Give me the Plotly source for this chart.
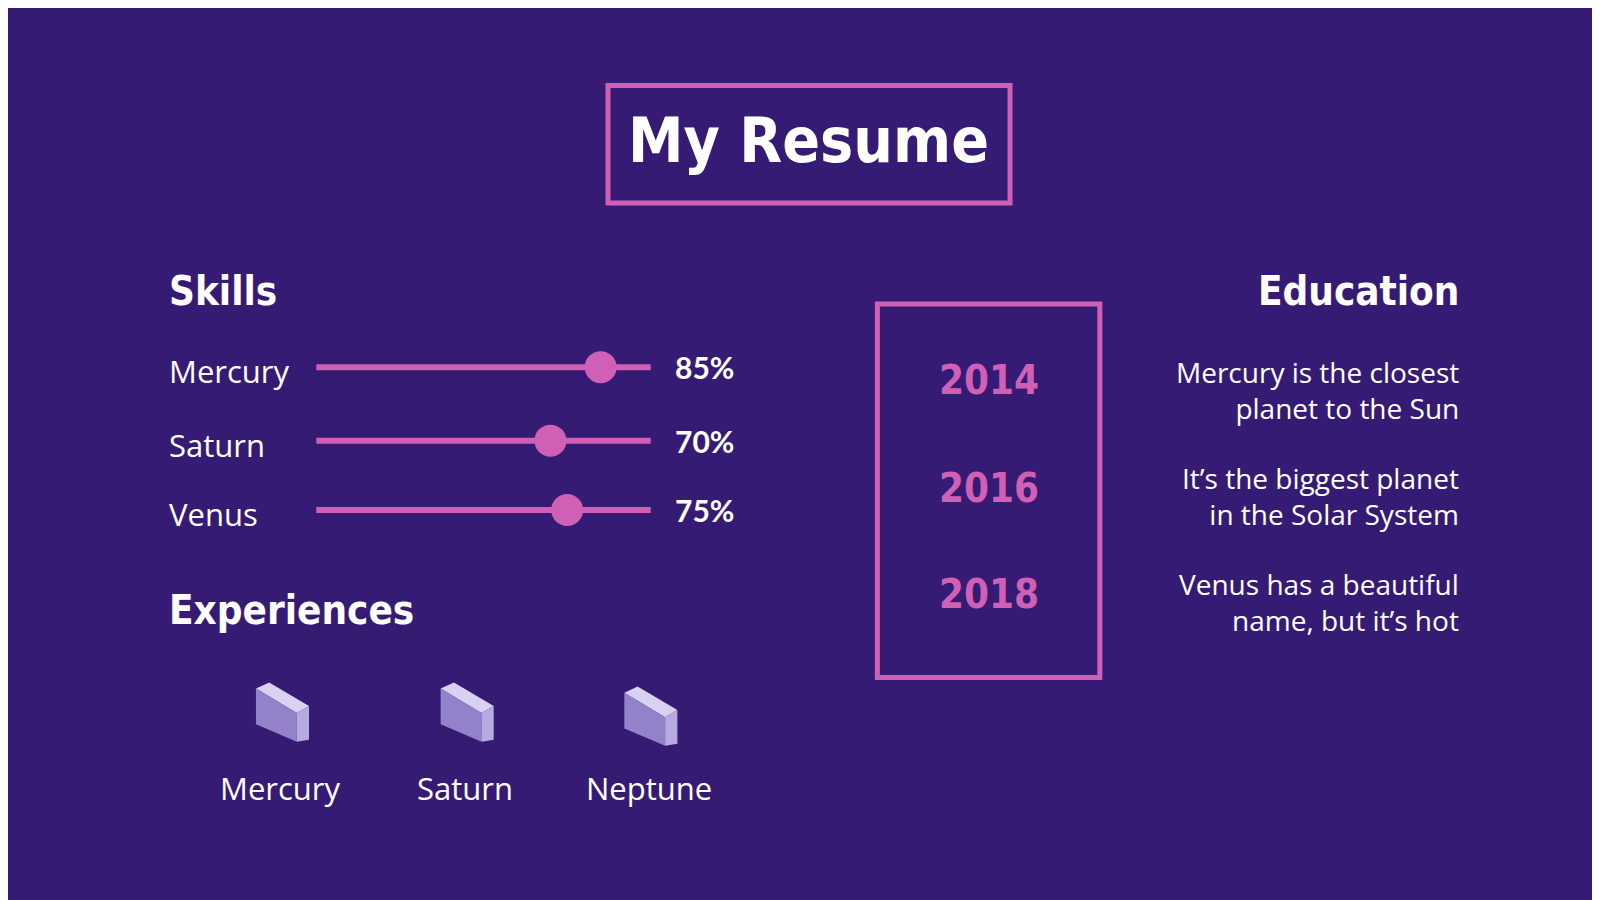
import plotly.graph_objects as go

BG = '#361b74'
PINK = '#cf60b6'
HEAD = 'DejaVu Sans Condensed, Liberation Sans Narrow, sans-serif'
BODY = 'Open Sans, Lato, sans-serif'

skills = ['Mercury', 'Saturn', 'Venus']
skill_values = [85, 70, 75]
experiences = ['Mercury', 'Saturn', 'Neptune']
years = ['2014', '2016', '2018']
education = ['Mercury is the closest<br>planet to the Sun',
             'It’s the biggest planet<br>in the Solar System',
             'Venus has a beautiful<br>name, but it’s hot']

W, H = 1568, 882
skill_y = [352, 424, 492]
exp_x = [267, 448, 628]
year_y = [365, 470, 574]
edu_y = [374, 478, 582]

fig = go.Figure()

# slider tracks and knobs on their own 0-100 axis
for s, v, y in zip(skills, skill_values, skill_y):
    fig.add_trace(go.Scatter(x=[0, 100], y=[y, y], mode='lines', xaxis='x2', yaxis='y',
                             line=dict(color=PINK, width=6), hoverinfo='skip'))
    fig.add_trace(go.Scatter(x=[v], y=[y], mode='markers', xaxis='x2', yaxis='y',
                             marker=dict(color=PINK, size=32), name=s))
# invisible anchor so the full-canvas axis is in use
fig.add_trace(go.Scatter(x=[0, W], y=[0, H], mode='markers', marker=dict(opacity=0), hoverinfo='skip'))

ann = []
def txt(x, y, t, size, font, color='white', anchor='left', bold=False):
    ann.append(dict(x=x, y=y, xref='x', yref='y', text=f'<b>{t}</b>' if bold else t,
                    showarrow=False, xanchor=anchor, yanchor='middle', align=anchor,
                    font=dict(size=size, family=font, color=color)))

txt(784, 130, 'My Resume', 62, HEAD, anchor='center', bold=True)
txt(156, 277, 'Skills', 40, HEAD, bold=True)
txt(156, 590, 'Experiences', 40, HEAD, bold=True)
txt(1424, 277, 'Education', 40, HEAD, anchor='right', bold=True)
for s, v, y in zip(skills, skill_values, skill_y):
    txt(156, y + 4, s, 31, BODY)
    txt(652, y, f'{v}%', 30, 'Lato, sans-serif', bold=True)
for e, x in zip(experiences, exp_x):
    txt(x, 764, e, 31, BODY, anchor='center')
for yr, y in zip(years, year_y):
    txt(961, y, yr, 40, HEAD, color=PINK, anchor='center', bold=True)
for e, y in zip(education, edu_y):
    txt(1424, y, e, 28, BODY, anchor='right')

shapes = [
    dict(type='rect', x0=588, x1=982, y0=76, y1=191, xref='x', yref='y', line=dict(color=PINK, width=5)),
    dict(type='rect', x0=852, x1=1070, y0=290, y1=656, xref='x', yref='y', line=dict(color=PINK, width=5)),
]
# little isometric blocks above each experience
for x in exp_x:
    ox, oy = x - 24, 667 if x != exp_x[2] else 671
    faces = [([(0, 0), (13, -6), (52, 17), (40, 24)], '#d9d1f2'),
             ([(0, 0), (40, 24), (40, 52), (0, 35)], '#9382c9'),
             ([(40, 24), (52, 17), (52, 50), (40, 52)], '#b9a9e2')]
    for pts, c in faces:
        path = 'M ' + ' L '.join(f'{ox + a},{oy + b}' for a, b in pts) + ' Z'
        shapes.append(dict(type='path', path=path, xref='x', yref='y', fillcolor=c, line=dict(width=0)))

fig.update_layout(
    width=1600, height=900, margin=dict(l=0, r=0, t=0, b=0),
    paper_bgcolor=BG, plot_bgcolor=BG, showlegend=False,
    xaxis=dict(range=[0, W], visible=False, domain=[0, 1], fixedrange=True),
    xaxis2=dict(range=[0, 100], visible=False, domain=[302 / W, 630 / W], anchor='y'),
    yaxis=dict(range=[H, 0], visible=False, domain=[0, 1]),
    annotations=ann, shapes=shapes,
)
fig.write_html('out.html')
